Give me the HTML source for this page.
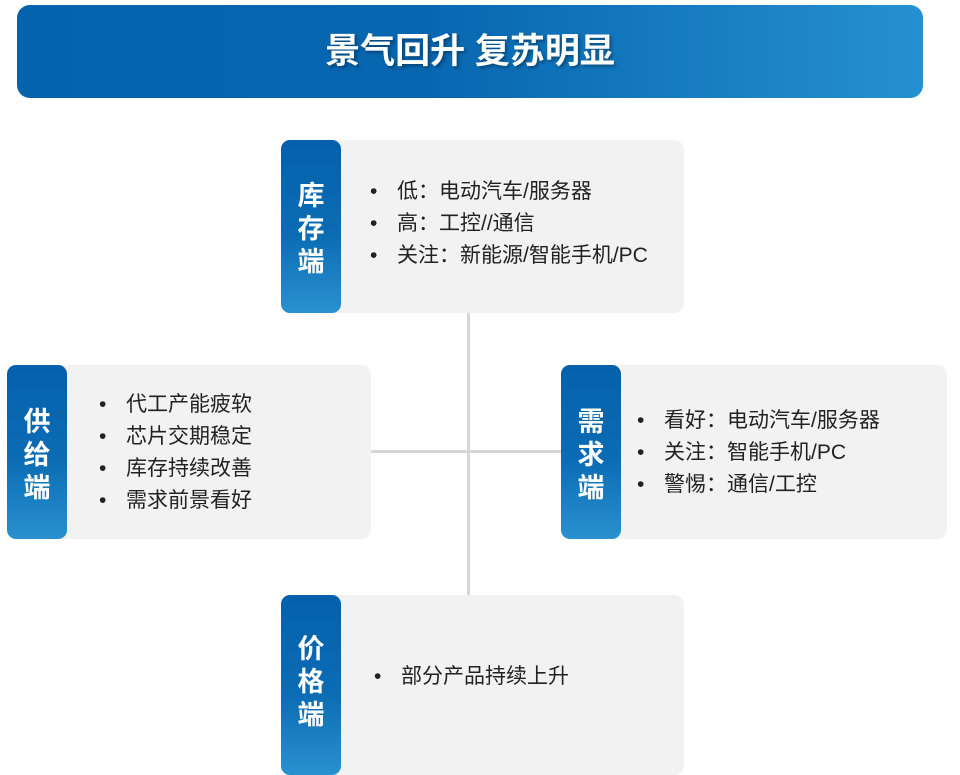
<!DOCTYPE html>
<html><head><meta charset="utf-8"><style>
body{margin:0;width:960px;height:763px;background:#fff;position:relative;overflow:hidden;font-family:"Liberation Sans","Noto Sans CJK SC",sans-serif}
.hdr{position:absolute;left:17px;top:5px;width:906px;height:93px;border-radius:13px;background:linear-gradient(90deg,#0563ad 0%,#0766b0 45%,#2590d0 100%);color:#fff;font-size:35px;font-weight:bold;text-align:center;line-height:93px;text-shadow:2px 2px 3px rgba(0,0,0,.35)}
.box{position:absolute;background:#f2f2f2;border-radius:10px}
.tab{position:absolute;width:60px;border-radius:9px;background:linear-gradient(180deg,#0560ab 0%,#0b6cb4 55%,#2991d0 100%);color:#fff;font-weight:bold;font-size:27px;line-height:33px;text-align:center;display:flex;align-items:center;justify-content:center}
.tab span{display:block;width:30px;margin-top:6px}
ul{position:absolute;margin:0;padding:0;list-style:none;font-size:21px;color:#222;line-height:32px}
li:before{content:"•";display:inline-block;width:27px;text-indent:0}
.ln{position:absolute;background:#d6d6d6}
</style></head><body>
<div class="hdr">景气回升 复苏明显</div>
<div class="ln" style="left:467px;top:313px;width:3px;height:282px"></div>
<div class="ln" style="left:371px;top:450px;width:190px;height:3px"></div>

<div class="box" style="left:281px;top:140px;width:403px;height:173px"></div>
<div class="tab" style="left:281px;top:140px;height:173px"><span>库存端</span></div>
<ul style="left:370px;top:176px"><li>低：电动汽车/服务器</li><li>高：工控//通信</li><li>关注：新能源/智能手机/PC</li></ul>

<div class="box" style="left:7px;top:365px;width:364px;height:174px"></div>
<div class="tab" style="left:7px;top:365px;height:174px"><span>供给端</span></div>
<ul style="left:99px;top:389px"><li>代工产能疲软</li><li>芯片交期稳定</li><li>库存持续改善</li><li>需求前景看好</li></ul>

<div class="box" style="left:561px;top:365px;width:386px;height:174px"></div>
<div class="tab" style="left:561px;top:365px;height:174px"><span>需求端</span></div>
<ul style="left:637px;top:405px"><li>看好：电动汽车/服务器</li><li>关注：智能手机/PC</li><li>警惕：通信/工控</li></ul>

<div class="box" style="left:281px;top:595px;width:403px;height:180px"></div>
<div class="tab" style="left:281px;top:595px;height:180px;align-items:flex-start"><span style="margin-top:38px">价格端</span></div>
<ul style="left:374px;top:661px"><li>部分产品持续上升</li></ul>
</body></html>
